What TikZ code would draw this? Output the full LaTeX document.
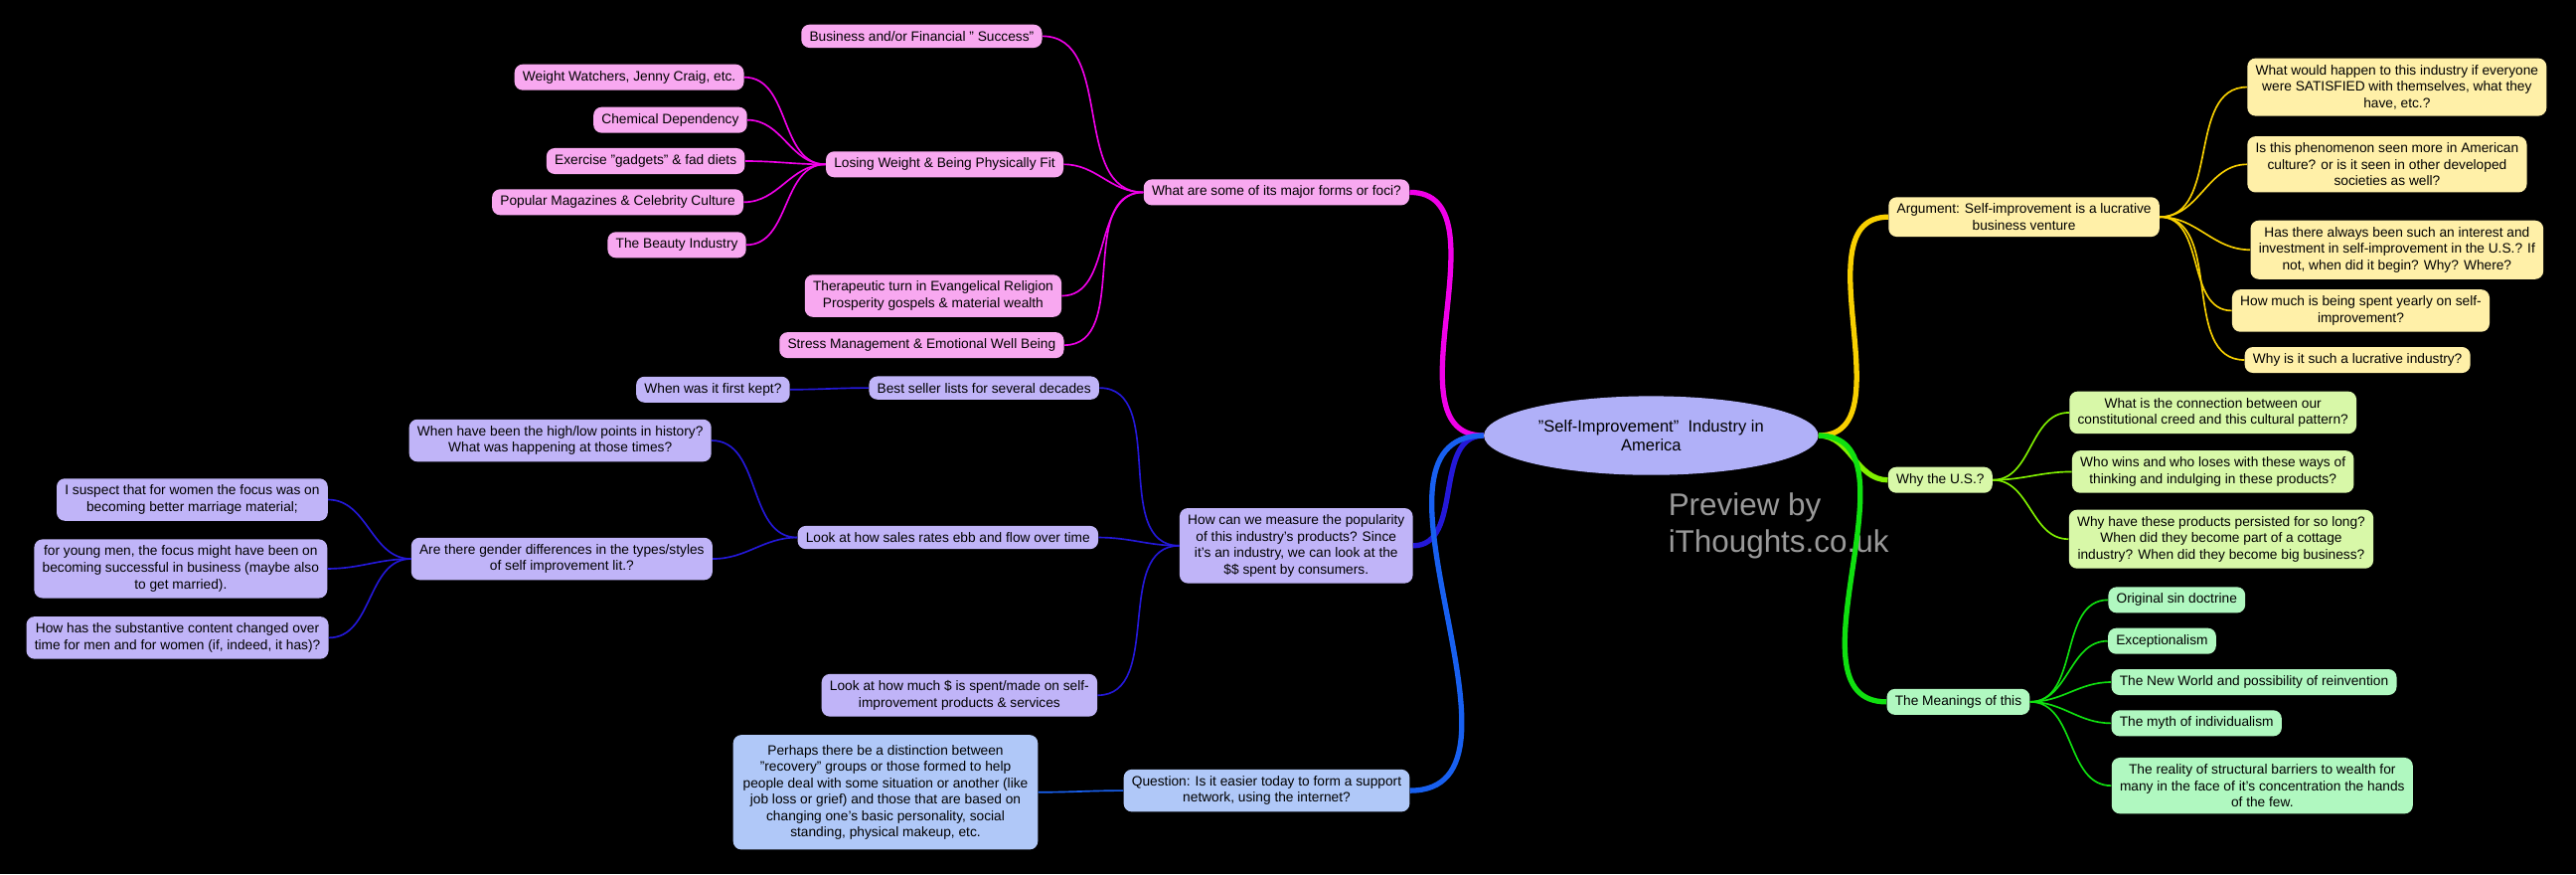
\documentclass[tikz,border=0pt]{standalone}
\usepackage{fontspec}
\setmainfont{Liberation Sans}
\usetikzlibrary{shapes.geometric}
\definecolor{pk}{HTML}{F8A8F0}
\definecolor{lv}{HTML}{C0B4F8}
\definecolor{lb}{HTML}{B0C8F8}
\definecolor{ly}{HTML}{FFF0A8}
\definecolor{lg}{HTML}{D8F8A8}
\definecolor{mt}{HTML}{B0F8C0}
\definecolor{ce}{HTML}{B0B0F8}
\definecolor{colmag}{HTML}{F000E8}
\definecolor{colblu}{HTML}{2418D8}
\definecolor{colq}{HTML}{1860F0}
\definecolor{colyel}{HTML}{F8D000}
\definecolor{colgy}{HTML}{80F000}
\definecolor{colgrn}{HTML}{10E010}
\tikzset{
 bx/.style={rounded corners=5pt,inner xsep=5pt,inner ysep=4pt,font=\fontsize{8.3}{10}\selectfont,align=center,text=black},
 c/.style={line width=1pt},
 m/.style={line width=3.2pt}
}
\begin{document}
\begin{tikzpicture}[x=1pt,y=-1pt]
\fill[black] (0,0) rectangle (1568,532);
\useasboundingbox (0,0) rectangle (1568,532);
% central
\node[ellipse,fill=ce,minimum width=196,minimum height=48,font=\fontsize{10}{11.5}\selectfont,align=center] (C) at (1005,265) {"Self-Improvement"\ \ Industry in\\America};
\node[text=gray!80,font=\fontsize{19}{22}\selectfont,align=left,anchor=west] (W) at (1012,320) {Preview by\\iThoughts.co.uk};
% left A
\node[bx,fill=pk] (A) at (777,117) {What are some of its major forms or foci?};
\node[bx,fill=pk] (A1) at (561,22) {Business and/or Financial " Success"};
\node[bx,fill=pk] (A2) at (575,100) {Losing Weight \& Being Physically Fit};
\node[bx,fill=pk] (A3) at (568,180) {Therapeutic turn in Evangelical Religion\\Prosperity gospels \& material wealth};
\node[bx,fill=pk] (A4) at (561,210) {Stress Management \& Emotional Well Being};
\node[bx,fill=pk] (L1) at (383,47) {Weight Watchers, Jenny Craig, etc.};
\node[bx,fill=pk] (L2) at (408,73) {Chemical Dependency};
\node[bx,fill=pk] (L3) at (393,98) {Exercise "gadgets" \& fad diets};
\node[bx,fill=pk] (L4) at (376,123) {Popular Magazines \& Celebrity Culture};
\node[bx,fill=pk] (L5) at (412,149) {The Beauty Industry};
\draw[m,colmag] (C.west) to[out=180,in=0] (A.east);
\foreach \n in {A1,A2,A3,A4} \draw[c,colmag] (A.west) to[out=180,in=0] (\n.east);
\foreach \n in {L1,L2,L3,L4,L5} \draw[c,colmag] (A2.west) to[out=180,in=0] (\n.east);
% left B
\node[bx,fill=lv] (B) at (789,332) {How can we measure the popularity\\of this industry's products? Since\\it's an industry, we can look at the\\\$\$ spent by consumers.};
\node[bx,fill=lv] (B1) at (599,236) {Best seller lists for several decades};
\node[bx,fill=lv] (B11) at (434,237) {When was it first kept?};
\node[bx,fill=lv] (B2) at (577,327) {Look at how sales rates ebb and flow over time};
\node[bx,fill=lv] (B21) at (341,268) {When have been the high/low points in history?\\What was happening at those times?};
\node[bx,fill=lv] (B22) at (342,340) {Are there gender differences in the types/styles\\of self improvement lit.?};
\node[bx,fill=lv] (G1) at (117,304) {I suspect that for women the focus was on\\becoming better marriage material;};
\node[bx,fill=lv] (G2) at (110,346) {for young men, the focus might have been on\\becoming successful in business (maybe also\\to get married).};
\node[bx,fill=lv] (G3) at (108,388) {How has the substantive content changed over\\time for men and for women (if, indeed, it has)?};
\node[bx,fill=lv] (B3) at (584,423) {Look at how much \$ is spent/made on self-\\improvement products \& services};
\draw[m,colblu] (C.west) to[out=180,in=0] (B.east);
\foreach \n in {B1,B2,B3} \draw[c,colblu] (B.west) to[out=180,in=0] (\n.east);
\draw[c,colblu] (B1.west) to[out=180,in=0] (B11.east);
\foreach \n in {B21,B22} \draw[c,colblu] (B2.west) to[out=180,in=0] (\n.east);
\foreach \n in {G1,G2,G3} \draw[c,colblu] (B22.west) to[out=180,in=0] (\n.east);
% left C
\node[bx,fill=lb] (Q) at (771,481) {Question: Is it easier today to form a support\\network, using the internet?};
\node[bx,fill=lb,inner sep=6pt] (Q1) at (539,482) {Perhaps there be a distinction between\\"recovery" groups or those formed to help\\people deal with some situation or another (like\\job loss or grief) and those that are based on\\changing one's basic personality, social\\standing, physical makeup, etc.};
\draw[m,colq] (C.west) to[out=180,in=0] (Q.east);
\draw[c,colq] (Q.west) to[out=180,in=0] (Q1.east);
% right D
\node[bx,fill=ly] (D) at (1232,132) {Argument: Self-improvement is a lucrative\\business venture};
\node[bx,fill=ly] (D1) at (1459,53) {What would happen to this industry if everyone\\were SATISFIED with themselves, what they\\have, etc.?};
\node[bx,fill=ly] (D2) at (1453,100) {Is this phenomenon seen more in American\\culture? or is it seen in other developed\\societies as well?};
\node[bx,fill=ly] (D3) at (1459,152) {Has there always been such an interest and\\investment in self-improvement in the U.S.? If\\not, when did it begin? Why? Where?};
\node[bx,fill=ly] (D4) at (1437,189) {How much is being spent yearly on self-\\improvement?};
\node[bx,fill=ly] (D5) at (1435,219) {Why is it such a lucrative industry?};
\draw[m,colyel] (C.east) to[out=0,in=180] (D.west);
\foreach \n in {D1,D2,D3,D4,D5} \draw[c,colyel] (D.east) to[out=0,in=180] (\n.west);
% right E
\node[bx,fill=lg] (E) at (1181,292) {Why the U.S.?};
\node[bx,fill=lg] (E1) at (1347,251) {What is the connection between our\\constitutional creed and this cultural pattern?};
\node[bx,fill=lg] (E2) at (1347,287) {Who wins and who loses with these ways of\\thinking and indulging in these products?};
\node[bx,fill=lg] (E3) at (1352,328) {Why have these products persisted for so long?\\When did they become part of a cottage\\industry? When did they become big business?};
\draw[m,colgy] (C.east) to[out=0,in=180] (E.west);
\foreach \n in {E1,E2,E3} \draw[c,colgy] (E.east) to[out=0,in=180] (\n.west);
% right F
\node[bx,fill=mt] (F) at (1192,427) {The Meanings of this};
\node[bx,fill=mt] (F1) at (1325,365) {Original sin doctrine};
\node[bx,fill=mt] (F2) at (1316,390) {Exceptionalism};
\node[bx,fill=mt] (F3) at (1372,415) {The New World and possibility of reinvention};
\node[bx,fill=mt] (F4) at (1337,440) {The myth of individualism};
\node[bx,fill=mt] (F5) at (1377,478) {The reality of structural barriers to wealth for\\many in the face of it's concentration the hands\\of the few.};
\draw[m,colgrn] (C.east) to[out=0,in=180] (F.west);
\foreach \n in {F1,F2,F3,F4,F5} \draw[c,colgrn] (F.east) to[out=0,in=180] (\n.west);
\end{tikzpicture}
\end{document}
